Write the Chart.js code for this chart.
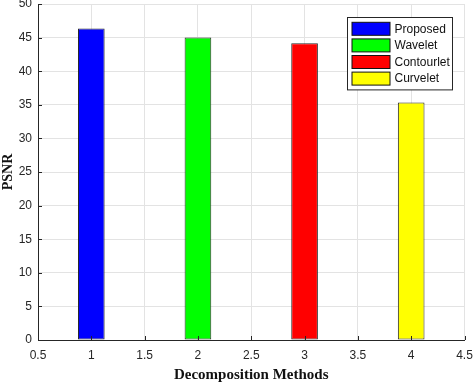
<!DOCTYPE html>
<html>
<head>
<meta charset="utf-8">
<script src="https://cdn.jsdelivr.net/npm/chart.js@4/dist/chart.umd.min.js"></script>
<style>
html,body{margin:0;padding:0;background:#fff;}
#wrap{width:474px;height:384px;position:relative;}
</style>
</head>
<body>
<div id="wrap"><canvas id="c" width="474" height="384"></canvas></div>
<script>
const methods = ["Proposed", "Wavelet", "Contourlet", "Curvelet"];
const positions = [1, 2, 3, 4];
const psnr = [46.35, 45.0, 44.15, 35.35];
const colors = ["#0000ff", "#00ff00", "#ff0000", "#ffff00"];
const xTicks = [0.5, 1, 1.5, 2, 2.5, 3, 3.5, 4, 4.5];
const yTicks = [0, 5, 10, 15, 20, 25, 30, 35, 40, 45, 50];

const datasets = methods.map((m, i) => ({
  label: m,
  data: [{x: positions[i], y: psnr[i]}],
  backgroundColor: colors[i],
  borderColor: "#2a2a2a",
  borderWidth: 1,
  borderSkipped: false,
  barPercentage: 0.5,
  categoryPercentage: 1,
  grouped: false
}));

const tickFont = {family: "'Liberation Sans', Arial, sans-serif", size: 12};
const titleFont = {family: "'Liberation Serif', 'Times New Roman', serif", size: 15, weight: "bold"};

const inwardTicks = {
  id: "inwardTicks",
  afterDatasetsDraw(chart) {
    const ctx = chart.ctx, a = chart.chartArea;
    const xs = chart.scales.x, ys = chart.scales.y;
    ctx.save();
    ctx.strokeStyle = "#262626";
    ctx.lineWidth = 1;
    ctx.beginPath();
    xs.ticks.forEach(t => {
      const px = Math.round(xs.getPixelForValue(t.value)) + 0.5;
      ctx.moveTo(px, a.bottom); ctx.lineTo(px, a.bottom - 4);
    });
    ys.ticks.forEach(t => {
      const py = Math.round(ys.getPixelForValue(t.value)) + 0.5;
      ctx.moveTo(a.left, py); ctx.lineTo(a.left + 4, py);
    });
    ctx.stroke();
    ctx.restore();
  }
};

const boxLegend = {
  id: "boxLegend",
  afterDraw(chart) {
    const ctx = chart.ctx;
    const x0 = 347.5, y0 = 17.5, w = 105, rowH = 16.6, pad = 3;
    const h = rowH * chart.data.datasets.length + pad * 2;
    ctx.save();
    ctx.fillStyle = "#fff";
    ctx.fillRect(x0, y0, w, h);
    ctx.strokeStyle = "#262626";
    ctx.lineWidth = 1;
    ctx.strokeRect(x0, y0, w, h);
    ctx.font = "12px 'Liberation Sans', Arial, sans-serif";
    ctx.textBaseline = "middle";
    chart.data.datasets.forEach((ds, i) => {
      const cy = y0 + pad + rowH * i + rowH / 2;
      ctx.fillStyle = ds.backgroundColor;
      ctx.fillRect(x0 + 4.5, cy - 6.5, 38, 13);
      ctx.strokeStyle = "#111";
      ctx.strokeRect(x0 + 4.5, cy - 6.5, 38, 13);
      ctx.fillStyle = "#111";
      ctx.fillText(ds.label, x0 + 47, cy + 0.5);
    });
    ctx.restore();
  }
};

new Chart(document.getElementById("c"), {
  type: "bar",
  data: {datasets},
  plugins: [inwardTicks, boxLegend],
  options: {
    responsive: false,
    animation: false,
    events: [],
    layout: {padding: {top: 4, right: 9.5, left: 0, bottom: 0}},
    plugins: {legend: {display: false}, tooltip: {enabled: false}},
    scales: {
      x: {
        type: "linear",
        offset: false,
        min: 0.5, max: 4.5,
        afterBuildTicks: s => { s.ticks = xTicks.map(v => ({value: v})); },
        afterFit: s => { s.height = 44; s.paddingLeft = 0; s.paddingRight = 0; },
        grid: {color: "#e3e3e3", drawTicks: false, offset: false},
        border: {display: true, color: "#262626"},
        ticks: {font: tickFont, color: "#262626", padding: 8, maxRotation: 0, autoSkip: false,
                callback: v => String(v)},
        title: {display: true, text: "Decomposition Methods", font: titleFont, color: "#111",
                padding: {top: 0, bottom: 0}}
      },
      y: {
        min: 0, max: 50,
        afterBuildTicks: s => { s.ticks = yTicks.map(v => ({value: v})); },
        afterFit: s => { s.width = 38; s.paddingTop = 0; s.paddingBottom = 0; },
        grid: {color: "#e3e3e3", drawTicks: false},
        border: {display: true, color: "#262626"},
        ticks: {font: tickFont, color: "#262626", padding: 6, autoSkip: false},
        title: {display: true, text: "PSNR", font: {family: "'Liberation Serif', 'Times New Roman', serif", size: 14, weight: "bold"},
                color: "#111", padding: {top: 0, bottom: 0}}
      }
    }
  }
});
</script>
</body>
</html>
